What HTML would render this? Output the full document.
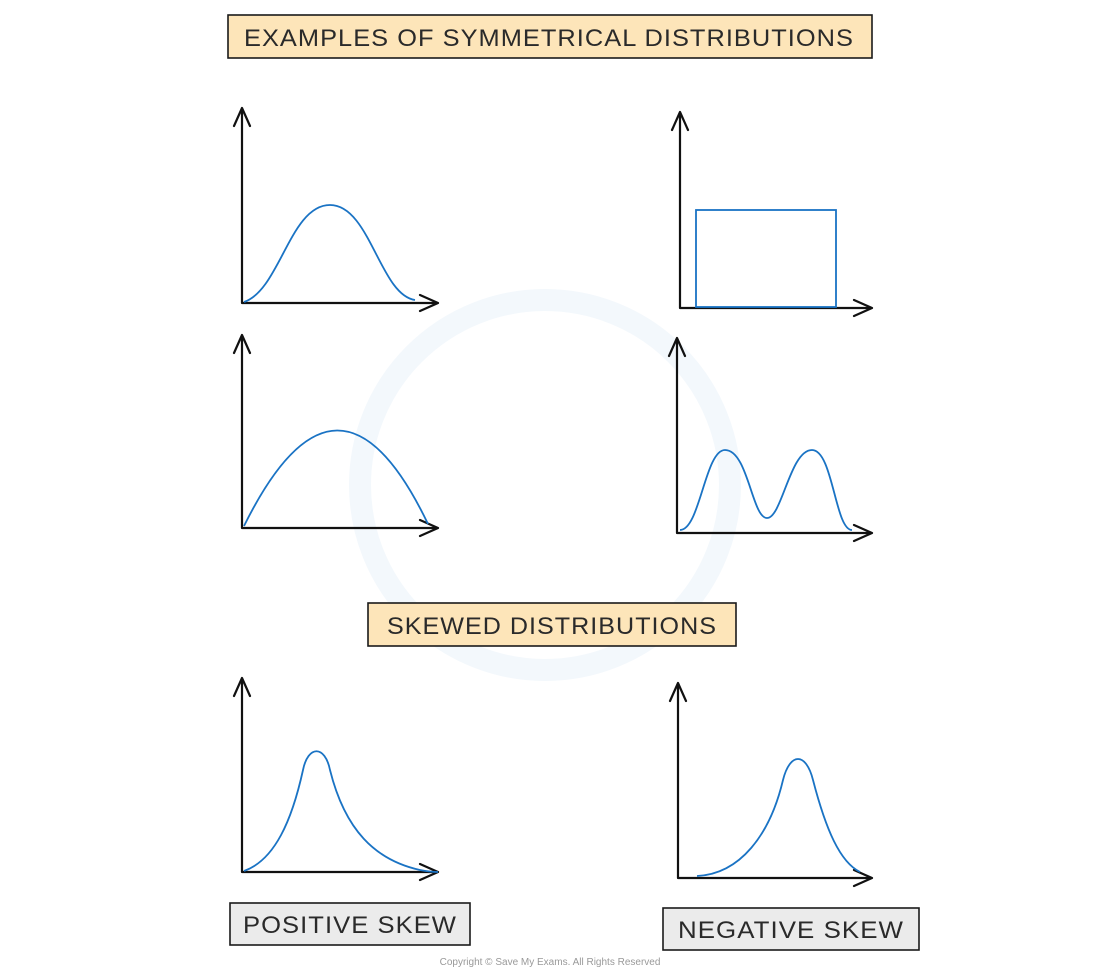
<!DOCTYPE html>
<html><head><meta charset="utf-8"><style>
html,body{margin:0;padding:0;background:#fff;}
svg{display:block;}
text{font-family:"Liberation Sans",sans-serif;}
</style></head><body>
<svg width="1100" height="968" viewBox="0 0 1100 968" xmlns="http://www.w3.org/2000/svg">
<circle cx="545" cy="485" r="185" fill="none" stroke="#f3f8fc" stroke-width="22"/>
<g stroke="#1a1a1a" stroke-width="1.6">
<rect x="228" y="15" width="644" height="43" fill="#fde5b9"/>
<rect x="368" y="603" width="368" height="43" fill="#fde5b9"/>
<rect x="230" y="903" width="240" height="42" fill="#ebebeb"/>
<rect x="663" y="908" width="256" height="42" fill="#ebebeb"/>
</g>
<g fill="#2a2a2a" font-size="24.5" letter-spacing="1" text-anchor="middle">
<text x="549" y="46" textLength="610" lengthAdjust="spacingAndGlyphs">EXAMPLES OF SYMMETRICAL DISTRIBUTIONS</text>
<text x="552" y="634" textLength="330" lengthAdjust="spacingAndGlyphs">SKEWED DISTRIBUTIONS</text>
<text x="350" y="933" textLength="214" lengthAdjust="spacingAndGlyphs">POSITIVE SKEW</text>
<text x="791" y="938" textLength="226" lengthAdjust="spacingAndGlyphs">NEGATIVE SKEW</text>
</g>
<text x="550" y="965" font-size="10" fill="#999" text-anchor="middle">Copyright © Save My Exams. All Rights Reserved</text>
<g fill="none" stroke="#111" stroke-width="2.2" stroke-linecap="round" stroke-linejoin="round">
<path d="M242 303V108M234 126L242 108L250 126M242 303H438M420 295L438 303L420 311"/>
<path d="M680 308V112M672 130L680 112L688 130M680 308H872M854 300L872 308L854 316"/>
<path d="M242 528V335M234 353L242 335L250 353M242 528H438M420 520L438 528L420 536"/>
<path d="M677 533V338M669 356L677 338L685 356M677 533H872M854 525L872 533L854 541"/>
<path d="M242 872V678M234 696L242 678L250 696M242 872H438M420 864L438 872L420 880"/>
<path d="M678 878V683M670 701L678 683L686 701M678 878H872M854 870L872 878L854 886"/>
</g>
<g fill="none" stroke="#1a73c4" stroke-width="1.8">
<path d="M244 302C280 290 290 205 330 205C370 205 380 295 415 300"/>
<rect x="696" y="210" width="140" height="97"/>
<path d="M244 526Q338 336 428 524"/>
<path d="M680 530C700 530 705 450 725 450C748 450 752 518 767 518C782 518 790 450 812 450C833 450 835 530 852 530"/>
<path d="M244 871C275 860 292 820 303 770C308 745 325 745 330 770C345 830 375 860 420 870C430 872 437 872 438 872"/>
<path d="M697 876C740 874 770 835 783 780C790 752 806 752 813 780C826 830 840 862 860 872"/>
</g>
</svg>
</body></html>
